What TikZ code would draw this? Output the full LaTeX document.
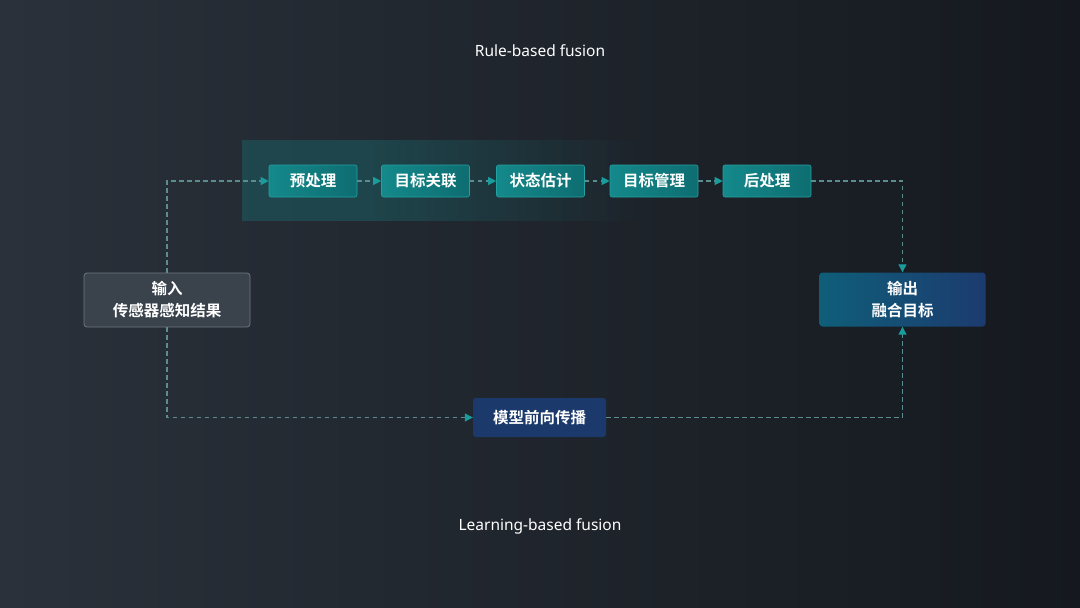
\documentclass[tikz,border=0pt]{standalone}
\usepackage{fontspec}
\setmainfont{Noto Sans}
\newfontfamily\cjk{Noto Sans CJK SC}
\newfontfamily\cjkb{Noto Sans CJK SC Bold}
\usetikzlibrary{arrows.meta,positioning}
\definecolor{bgL}{HTML}{2A313A}
\definecolor{bgR}{HTML}{15191F}
\definecolor{stepA}{HTML}{14898B}
\definecolor{stepB}{HTML}{0E6D71}
\definecolor{stepLine}{HTML}{23A0A0}
\definecolor{dashc}{HTML}{5A8C90}
\definecolor{tipc}{HTML}{1A9C9C}
\definecolor{inFill}{HTML}{3A424C}
\definecolor{inLine}{HTML}{6E7782}
\definecolor{outA}{HTML}{0F5E79}
\definecolor{outB}{HTML}{1C3B6F}
\definecolor{modFill}{HTML}{1B3A6B}
\definecolor{bandc}{HTML}{15777A}
\tikzset{
  x=1pt,y=-1pt,
  stepbox/.style={draw=stepLine, line width=0.6pt, rounded corners=2pt, left color=stepA, right color=stepB,
    minimum width=88pt, minimum height=32pt, inner sep=0pt, text=white, font=\cjkb\fontsize{15.5}{17}\selectfont},
  flow/.style={draw=dashc, line width=1.1pt, dash pattern=on 4.5pt off 3.5pt,
    -{Triangle[length=8pt,width=8pt,fill=tipc,color=tipc]}},
  bigbox/.style={rounded corners=3pt, minimum width=166pt, minimum height=54pt, inner sep=0pt, text=white,
    align=center, font=\cjkb\fontsize{15.5}{22}\selectfont},
  title/.style={text=white, font=\fontsize{15.5}{18}\selectfont}
}
\begin{document}
\begin{tikzpicture}
\shade[left color=bgL, right color=bgR] (0,0) rectangle (1080,608);
\useasboundingbox (0,0) rectangle (1080,608);
\foreach \i in {0,...,99} {
  \pgfmathsetmacro\xa{242+4*\i}
  \pgfmathsetmacro\op{0.36*min(1,(642-\xa)/270)}
  \fill[bandc, fill opacity=\op] (\xa,140) rectangle ({\xa+4.02},221);
}

\node[title] (t1) at (540,51) {Rule-based fusion};
\node[title] (t2) at (540,526) {Learning-based fusion};

\node[stepbox] (s1) at (313,181) {预处理};
\node[stepbox] (s2) at (425.5,181) {目标关联};
\node[stepbox] (s3) at (540.5,181) {状态估计};
\node[stepbox] (s4) at (654,181) {目标管理};
\node[stepbox] (s5) at (767,181) {后处理};

\node[bigbox, draw=inLine, line width=0.8pt, fill=inFill] (in) at (167,300) {输入\\传感器感知结果};
\node[bigbox, left color=outA, right color=outB] (out) at (902.5,299.5) {输出\\融合目标};
\node[rounded corners=3pt, fill=modFill, minimum width=133pt, minimum height=39pt, inner sep=0pt,
  text=white, font=\cjkb\fontsize{15.5}{17}\selectfont] (mod) at (539.5,417.5) {模型前向传播};

\draw[flow] (in.north) |- (s1.west);
\draw[flow] (s1) -- (s2);
\draw[flow] (s2) -- (s3);
\draw[flow] (s3) -- (s4);
\draw[flow] (s4) -- (s5);
\draw[flow] (s5.east) -| (out.north);
\draw[flow] (in.south) |- (mod.west);
\draw[flow] (mod.east) -| (out.south);
\end{tikzpicture}
\end{document}
